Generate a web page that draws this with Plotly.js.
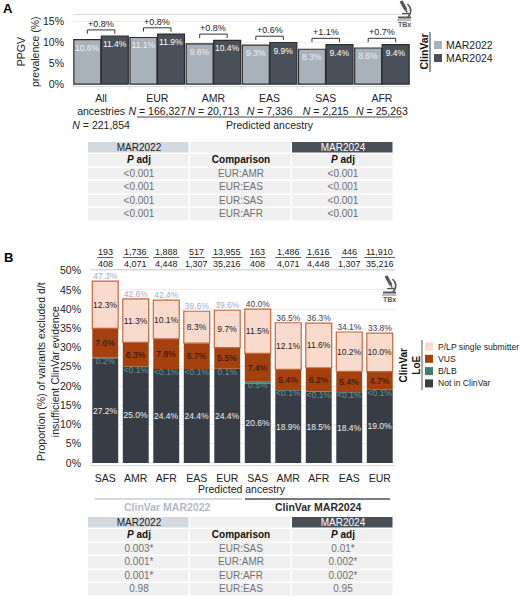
<!DOCTYPE html>
<html><head><meta charset="utf-8">
<script src="https://cdn.plot.ly/plotly-3.0.1.min.js"></script>
<style>html,body{margin:0;padding:0;background:#fff}#chart{width:520px;height:598px}</style>
</head><body><div id="chart"></div>
<script>
const W = 520, H = 598;
const px = x => x / W, py = y => 1 - y / H;
const FONT = 'Liberation Sans, Arial, Helvetica, sans-serif';

// ---------- Panel A data ----------
const aCategories = ['All<br>ancestries', 'EUR', 'AMR', 'EAS', 'SAS', 'AFR'];
const aSampleN = ['221,854', '166,327', '20,713', '7,336', '2,215', '25,263'];
const aMar2022 = [10.6, 11.1, 9.6, 9.3, 8.3, 8.6];
const aMar2024 = [11.4, 11.9, 10.4, 9.9, 9.4, 9.4];
const aChange = ['+0.8%', '+0.8%', '+0.8%', '+0.6%', '+1.1%', '+0.7%'];
const aYTicks = [0, 5, 10, 15];
const releases = ['MAR2022', 'MAR2024'];

// ---------- Panel A table ----------
const tableAHeader = ['MAR2022', '', 'MAR2024'];
const tableASubHeader = ['<b><i>P</i> adj</b>', '<b>Comparison</b>', '<b><i>P</i> adj</b>'];
const tableAComparison = ['EUR:AMR', 'EUR:EAS', 'EUR:SAS', 'EUR:AFR'];
const tableAP2022 = ['&lt;0.001', '&lt;0.001', '&lt;0.001', '&lt;0.001'];
const tableAP2024 = ['&lt;0.001', '&lt;0.001', '&lt;0.001', '&lt;0.001'];

// ---------- Panel B data ----------
const bAncestry = ['SAS', 'AMR', 'AFR', 'EAS', 'EUR', 'SAS', 'AMR', 'AFR', 'EAS', 'EUR'];
const bRelease = ['MAR2022', 'MAR2022', 'MAR2022', 'MAR2022', 'MAR2022', 'MAR2024', 'MAR2024', 'MAR2024', 'MAR2024', 'MAR2024'];
const bNotInClinVar = [27.2, 25.0, 24.4, 24.4, 24.4, 20.6, 18.9, 18.5, 18.4, 19.0];
const bBLB = [0.2, 0.05, 0.05, 0.05, 0.1, 0.5, 0.05, 0.05, 0.05, 0.05];
const bBLBLabel = ['0.2%', '&lt;0.1%', '&lt;0.1%', '&lt;0.1%', '0.1%', '0.5%', '&lt;0.1%', '&lt;0.1%', '&lt;0.1%', '&lt;0.1%'];
const bVUS = [7.6, 6.3, 7.8, 6.7, 5.5, 7.4, 5.4, 6.2, 5.4, 4.7];
const bPLP = [12.3, 11.3, 10.1, 8.3, 9.7, 11.5, 12.1, 11.6, 10.2, 10.0];
const bTotal = [47.3, 42.6, 42.4, 39.6, 39.6, 40.0, 36.5, 36.3, 34.1, 33.8];
const bExcluded = [193, 1736, 1888, 517, 13955, 163, 1486, 1616, 446, 11910];
const bVariants = [408, 4071, 4448, 1307, 35216, 408, 4071, 4448, 1307, 35216];
const bYTicks = [0, 5, 10, 15, 20, 25, 30, 35, 40, 45, 50];
const loeNames = ['P/LP single submitter', 'VUS', 'B/LB', 'Not in ClinVar'];

// ---------- Panel B table ----------
const tableBHeader = ['MAR2022', '', 'MAR2024'];
const tableBSubHeader = ['<b><i>P</i> adj</b>', '<b>Comparison</b>', '<b><i>P</i> adj</b>'];
const tableBComparison = ['EUR:SAS', 'EUR:AMR', 'EUR:AFR', 'EUR:EAS'];
const tableBP2022 = ['0.003*', '0.001*', '0.001*', '0.98'];
const tableBP2024 = ['0.01*', '0.002*', '0.002*', '0.95'];

// ---------- colours ----------
const C = {
  a22: '#a9b1bb', a24: '#4a5059', outline: '#2c2c2c',
  notin: '#383d45', blb: '#3f7c76', vus: '#a5400f', plp: '#f8dbcd', plpLine: '#c8653f',
  blbText: '#5f9791', tot22: '#a4afc0', tot24: '#3b4654', text: '#222',
  th22: '#d4d9df', cell: '#f0f0f0', th24: '#4a5058'
};

const fmt = n => n.toLocaleString('en-US');
const pct = v => v.toFixed(1) + '%';

const traces = [];
const idxA = aCategories.map((_, i) => i);

traces.push({
  type: 'bar', name: releases[0], x: idxA, y: aMar2022, xaxis: 'x', yaxis: 'y',
  width: 0.48, offset: -0.485,
  marker: { color: C.a22, line: { color: C.outline, width: 1.2 } },
  text: aMar2022.map(pct), textposition: 'inside', insidetextanchor: 'end',
  constraintext: 'none', textangle: 0,
  textfont: { family: FONT, size: 8.5, color: '#eef0f3' }, hoverinfo: 'skip', showlegend: false
});
traces.push({
  type: 'bar', name: releases[1], x: idxA, y: aMar2024, xaxis: 'x', yaxis: 'y',
  width: 0.48, offset: 0.005,
  marker: { color: C.a24, line: { color: C.outline, width: 1.2 } },
  text: aMar2024.map(pct), textposition: 'inside', insidetextanchor: 'end',
  constraintext: 'none', textangle: 0,
  textfont: { family: FONT, size: 8.5, color: '#ffffff' }, hoverinfo: 'skip', showlegend: false
});

// Panel B stacked bars (explicit bases)
const idxB = bAncestry.map((_, i) => i);
const base2 = bNotInClinVar.map((v, i) => v + bBLB[i]);
const base3 = base2.map((v, i) => v + bVUS[i]);
const stackTop = base3.map((v, i) => v + bPLP[i]);

traces.push({
  type: 'bar', name: loeNames[3], x: idxB, y: bNotInClinVar, base: 0, xaxis: 'x2', yaxis: 'y2', width: 0.85,
  marker: { color: C.notin, line: { width: 0 } },
  text: bNotInClinVar.map(pct), textposition: 'inside', insidetextanchor: 'middle', constraintext: 'none', textangle: 0,
  textfont: { family: FONT, size: 8.5, color: '#eceef0' }, hoverinfo: 'skip', showlegend: false
});
traces.push({
  type: 'bar', name: loeNames[2], x: idxB, y: bBLB, base: bNotInClinVar, xaxis: 'x2', yaxis: 'y2', width: 0.85,
  marker: { color: C.blb, line: { width: 0 } }, hoverinfo: 'skip', showlegend: false
});
traces.push({
  type: 'bar', name: loeNames[1], x: idxB, y: bVUS, base: base2, xaxis: 'x2', yaxis: 'y2', width: 0.85,
  marker: { color: C.vus, line: { width: 0 } },
  text: bVUS.map(pct), textposition: 'inside', insidetextanchor: 'middle', constraintext: 'none', textangle: 0,
  textfont: { family: FONT, size: 8.5, color: '#1e1108' }, hoverinfo: 'skip', showlegend: false
});
traces.push({
  type: 'bar', name: loeNames[0], x: idxB, y: bPLP, base: base3, xaxis: 'x2', yaxis: 'y2', width: 0.85,
  marker: { color: C.plp, line: { color: C.plpLine, width: 1.2 } },
  text: bPLP.map(pct), textposition: 'inside', insidetextanchor: 'middle', constraintext: 'none', textangle: 0,
  textfont: { family: FONT, size: 8.5, color: '#222' }, hoverinfo: 'skip', showlegend: false
});
traces.push({
  type: 'scatter', mode: 'text', x: idxB, y: base2, xaxis: 'x2', yaxis: 'y2',
  text: bBLBLabel, textposition: 'bottom center', cliponaxis: false,
  textfont: { family: FONT, size: 8.5, color: C.blbText }, hoverinfo: 'skip', showlegend: false
});
traces.push({
  type: 'scatter', mode: 'text', x: idxB, y: stackTop, xaxis: 'x2', yaxis: 'y2',
  text: bTotal.map(pct), textposition: 'top center', cliponaxis: false,
  textfont: { family: FONT, size: 8.5, color: bRelease.map(r => r === releases[0] ? C.tot22 : C.tot24) },
  hoverinfo: 'skip', showlegend: false
});

// ---------- Tables: heatmap cells + text on hidden axes ----------
const rowEdges = [0, 12, 25.5, 39, 52.5, 66, 79.5];
function pTable(xa, ya, header, sub, p22, comp, p24) {
  const nRows = rowEdges.length - 1;
  const z = [];
  for (let r = 0; r < nRows; r++) z.push(r === 0 ? [0, 1, 2] : [1, 1, 1]);
  traces.push({
    type: 'heatmap', xaxis: xa, yaxis: ya, x: [0, 1, 2], y: rowEdges, z,
    zmin: 0, zmax: 2, showscale: false, xgap: 1.5, ygap: 1.5, hoverinfo: 'skip',
    colorscale: [[0, C.th22], [0.33, C.th22], [0.33, C.cell], [0.67, C.cell], [0.67, C.th24], [1, C.th24]]
  });
  const cols = [[header[0], sub[0]].concat(p22), [header[1], sub[1]].concat(comp), [header[2], sub[2]].concat(p24)];
  const xs = [], ys = [], ts = [], cs = [];
  cols.forEach((col, c) => col.forEach((t, r) => {
    xs.push(c); ys.push((rowEdges[r] + rowEdges[r + 1]) / 2); ts.push(t);
    cs.push(r === 0 ? (c === 2 ? '#ffffff' : '#222') : r === 1 ? '#111' : '#707070');
  }));
  traces.push({
    type: 'scatter', mode: 'text', xaxis: xa, yaxis: ya, x: xs, y: ys, text: ts,
    textposition: 'middle center', cliponaxis: false,
    textfont: { family: FONT, size: 10, color: cs }, hoverinfo: 'skip', showlegend: false
  });
}
pTable('x3', 'y3', tableAHeader, tableASubHeader, tableAP2022, tableAComparison, tableAP2024);
pTable('x4', 'y4', tableBHeader, tableBSubHeader, tableBP2022, tableBComparison, tableBP2024);

// ---------- shapes & annotations ----------
const shapes = [], annotations = [];
const ann = (x, y, text, o = {}) => annotations.push(Object.assign({
  xref: 'paper', yref: 'paper', x: px(x), y: py(y), text, showarrow: false,
  font: Object.assign({ family: FONT, size: 10.5, color: C.text }, o.font || {}),
  xanchor: o.xanchor || 'center', yanchor: o.yanchor || 'middle', textangle: o.textangle || 0
}, o.extra || {}));
const hline = (x0, y0, x1, y1, color, width) => shapes.push({
  type: 'line', xref: 'paper', yref: 'paper', x0: px(x0), y0: py(y0), x1: px(x1), y1: py(y1),
  line: { color, width }
});
const box = (x0, y0, x1, y1, color) => shapes.push({
  type: 'rect', xref: 'paper', yref: 'paper', x0: px(x0), y0: py(y0), x1: px(x1), y1: py(y1),
  fillcolor: color, line: { width: 0 }
});

// panel letters
ann(8, 9, '<b>A</b>', { font: { size: 13, color: '#000' } });
ann(8, 258, '<b>B</b>', { font: { size: 13, color: '#000' } });

// Y titles
ann(28, 52, 'PPGV<br>prevalence (%)', { textangle: -90 });
ann(48, 372, 'Proportion (%) of variants excluded d/t<br>insufficient ClinVar evidence', { textangle: -90 });

// brackets panel A
idxA.forEach(i => {
  const yb = Math.max(aMar2022[i], aMar2024[i]) + 1.5;
  shapes.push({
    type: 'path', xref: 'x', yref: 'y',
    path: `M ${i - 0.245} ${yb - 0.9} L ${i - 0.245} ${yb} L ${i + 0.245} ${yb} L ${i + 0.245} ${yb - 0.9}`,
    line: { color: '#333', width: 1 }
  });
  annotations.push({
    xref: 'x', yref: 'y', x: i, y: yb, text: aChange[i], showarrow: false, yanchor: 'bottom', yshift: -1,
    font: { family: FONT, size: 9, color: '#222' }
  });
});

// predicted ancestry A
hline(137, 117, 402, 117, '#444', 1);
ann(270, 125, 'Predicted ancestry');

// legend A
ann(423.5, 52, '<b>ClinVar</b>', { textangle: -90, font: { size: 10.5, color: '#111' } });
hline(430, 32, 430, 72, '#333', 1);
[C.a22, C.a24].forEach((c, k) => {
  const yc = 45 + k * 13;
  box(434, yc - 4, 442, yc + 4, c);
  ann(443.5, yc, releases[k], { xanchor: 'left', font: { size: 10.5 } });
});

// microscope icons
function microscope(cx, t) {
  const col = '#555';
  const P = (x, y) => `${px(x)} ${py(y)}`;
  const path = (d, w) => shapes.push({ type: 'path', xref: 'paper', yref: 'paper', path: d, line: { color: col, width: w } });
  path(`M ${P(cx - 3, t + 1)} L ${P(cx + 2, t + 10)}`, 3.2);
  path(`M ${P(cx + 2, t + 10)} L ${P(cx + 3, t + 12.5)}`, 1.6);
  path(`M ${P(cx + 3.5, t + 4)} Q ${P(cx + 10, t + 10)} ${P(cx + 4, t + 17)}`, 1.6);
  path(`M ${P(cx - 2, t + 13.5)} L ${P(cx + 5, t + 13.5)}`, 1.3);
  path(`M ${P(cx - 6, t + 17.5)} L ${P(cx + 7, t + 17.5)}`, 2);
  path(`M ${P(cx - 7, t + 20)} L ${P(cx + 7, t + 20)}`, 0.8);
  ann(cx, t + 24.5, '<b>TBx</b>', { font: { size: 7, color: col } });
}
microscope(404, 0);
microscope(389, 275);

// fractions panel B
idxB.forEach(i => {
  const num = fmt(bExcluded[i]), den = fmt(bVariants[i]);
  annotations.push({ xref: 'x2', yref: 'paper', x: i, y: py(252), text: num, showarrow: false, borderpad: 0, font: { family: FONT, size: 9, color: '#222' } });
  annotations.push({ xref: 'x2', yref: 'paper', x: i, y: py(264), text: den, showarrow: false, borderpad: 0, font: { family: FONT, size: 9, color: '#222' } });
  const hw = (num.length * 5.0 / 2 + 0.5) / 30.5;
  shapes.push({ type: 'line', xref: 'x2', yref: 'paper', x0: i - hw, x1: i + hw, y0: py(257.5), y1: py(257.5), line: { color: '#333', width: 0.8 } });
});

// predicted ancestry B + release groups
ann(242, 489, 'Predicted ancestry');
hline(95, 499, 242, 499, '#c9ced6', 1.6);
hline(245, 499, 390, 499, '#4b5059', 1.6);
ann(167, 507, '<b>ClinVar MAR2022</b>', { font: { size: 10.5, color: '#b3bac5' } });
ann(318, 507, '<b>ClinVar MAR2024</b>', { font: { size: 10.5, color: '#2b2b2b' } });

// legend B
ann(409.5, 365, '<b>ClinVar<br>LoE</b>', { textangle: -90, font: { size: 10, color: '#111' } });
hline(422, 340, 422, 390, '#555', 1);
[C.plp, C.vus, C.blb, C.notin].forEach((c, k) => {
  const yc = 346.5 + k * 12.3;
  box(425, yc - 4, 433, yc + 4, c);
  ann(436, yc, loeNames[k], { xanchor: 'left', font: { size: 8.6 } });
});

const hidden = (dom, range, anchor) => ({
  domain: dom, range, anchor, visible: false, fixedrange: true,
  showgrid: false, zeroline: false, showticklabels: false
});

const layout = {
  width: W, height: H, autosize: false,
  margin: { l: 0, r: 0, t: 0, b: 0 },
  paper_bgcolor: '#fff', plot_bgcolor: 'rgba(0,0,0,0)',
  font: { family: FONT, color: C.text },
  barmode: 'overlay', showlegend: false,
  xaxis: {
    domain: [px(73), px(410)], anchor: 'y', range: [-0.5, 5.5],
    tickvals: idxA, ticktext: aCategories.map((c, i) => `${c}<br><i>N</i> = ${aSampleN[i]}`),
    ticks: '', tickangle: 0, tickfont: { family: FONT, size: 10.5, color: C.text },
    showline: true, mirror: true, linecolor: '#d8d8d8', linewidth: 1,
    showgrid: false, zeroline: false, fixedrange: true, ticklabelstandoff: 2,
    minor: { tickvals: [0.5, 1.5, 2.5, 3.5, 4.5], ticks: 'outside', ticklen: 3, tickcolor: '#d8d8d8', showgrid: false }
  },
  yaxis: {
    domain: [py(86), py(15)], anchor: 'x', range: [-0.45, 16.45],
    tickvals: aYTicks, ticktext: aYTicks.map(v => v + '%'), ticks: '',
    tickfont: { family: FONT, size: 10.5, color: C.text },
    showgrid: true, gridcolor: '#efefef', zeroline: false, showline: false, ticklabelstandoff: 8, fixedrange: true
  },
  xaxis2: {
    domain: [px(90), px(395)], anchor: 'y2', range: [-0.5, 9.5],
    tickvals: idxB, ticktext: bAncestry, ticks: '', tickangle: 0,
    tickfont: { family: FONT, size: 10.5, color: C.text },
    showline: true, mirror: true, linecolor: '#d8d8d8', linewidth: 1,
    showgrid: false, zeroline: false, fixedrange: true, ticklabelstandoff: 4
  },
  yaxis2: {
    domain: [py(464.5), py(269.5)], anchor: 'x2', range: [-0.4, 50.3],
    tickvals: bYTicks, ticktext: bYTicks.map(v => v + '%'), ticks: '',
    tickfont: { family: FONT, size: 10.5, color: C.text },
    showgrid: true, gridcolor: '#ececec', zeroline: false, showline: false, ticklabelstandoff: 8, fixedrange: true
  },
  xaxis3: hidden([px(88), px(394)], [-0.5, 2.5], 'y3'),
  yaxis3: hidden([py(142 + 79.5), py(142)], [79.5, 0], 'x3'),
  xaxis4: hidden([px(88), px(394)], [-0.5, 2.5], 'y4'),
  yaxis4: hidden([py(517 + 79.5), py(517)], [79.5, 0], 'x4'),
  shapes, annotations
};

Plotly.newPlot('chart', traces, layout, { displayModeBar: false, staticPlot: true });
</script>
</body></html>
